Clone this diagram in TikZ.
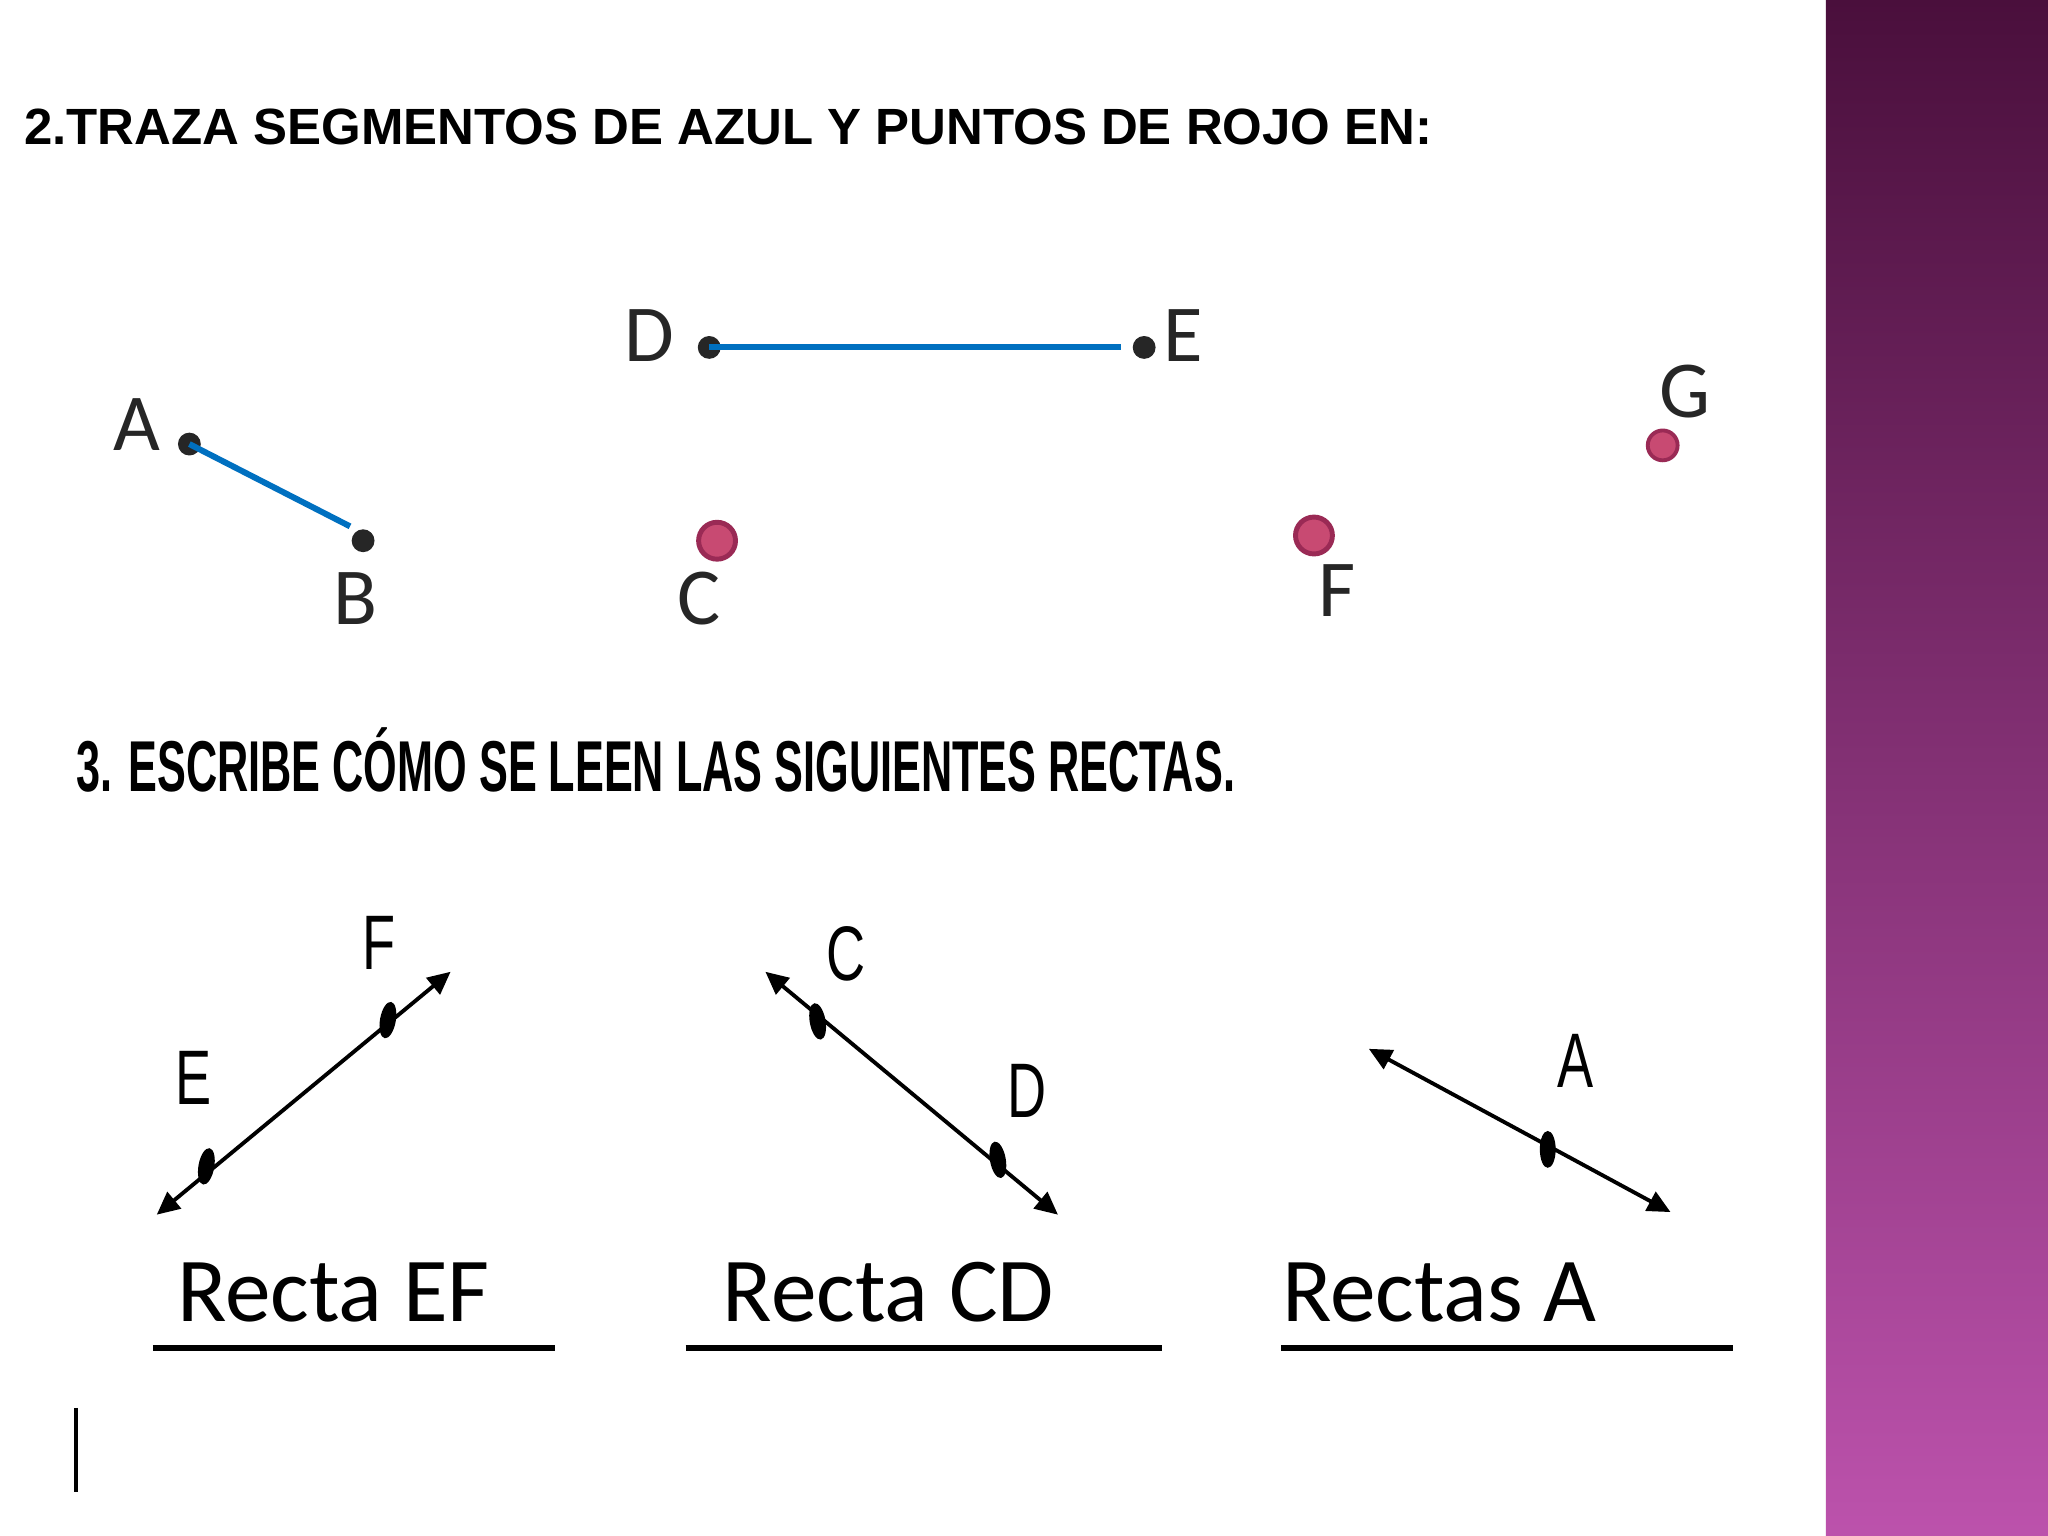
\documentclass[tikz,border=0pt]{standalone}
\usepackage{fontspec}
\setmainfont{Liberation Sans}
\newfontfamily\carlfont{Carlito}
\usetikzlibrary{arrows.meta,shapes.geometric}
\definecolor{segblue}{HTML}{0070C0}
\definecolor{ptred}{HTML}{9A2A55}
\definecolor{ptin}{HTML}{C84A72}
\definecolor{bartop}{HTML}{4A0F3C}
\definecolor{barbot}{HTML}{BC52AC}
\begin{document}
\begin{tikzpicture}[x=0.013061cm,y=-0.013061cm,
 lbl/.style={font=\carlfont\fontsize{23}{26}\selectfont,text=black!85,inner sep=0},
 lbl2/.style={font=\fontsize{15}{18}\selectfont,inner sep=0},
 bdot/.style={circle,fill=black!85,minimum size=6.5pt,inner sep=0},
 rdot/.style={circle,draw=ptred,line width=1.4pt,fill=ptin,inner sep=0},
 seg/.style={segblue,line width=1.7pt},
 rline/.style={black,line width=1.1pt,{Triangle[length=6.5pt,width=6pt]}-{Triangle[length=6.5pt,width=6pt]}},
 edot/.style={ellipse,fill=black,minimum width=4.5pt,minimum height=10.5pt,inner sep=0},
 rtext/.style={font=\carlfont\fontsize{26}{30}\selectfont,anchor=base west,inner sep=0},
 uline/.style={black,line width=1.5pt}]
\useasboundingbox (0,0) rectangle (1568,1176);
\fill[white] (0,0) rectangle (1568,1176);
\shade[top color=bartop,bottom color=barbot] (1398,0) rectangle (1568,1176);
\node[anchor=west,inner sep=0,font=\bfseries\fontsize{14.5}{17}\selectfont] (t2) at (18,97) {2.TRAZA SEGMENTOS DE AZUL Y PUNTOS DE ROJO EN:};
% section 2
\node[bdot] (A) at (145,340) {};
\node[bdot] (B) at (278,414) {};
\node[bdot] (D) at (543,266) {};
\node[bdot] (E) at (876,266) {};
\coordinate (Bend) at (268,403);
\coordinate (Eend) at (858,266);
\draw[seg] (A.center) -- (Bend);
\draw[seg] (D.center) -- (Eend);
\node[rdot,minimum size=10.5pt] (C) at (549,414) {};
\node[rdot,minimum size=10.5pt] (F) at (1006,410) {};
\node[rdot,minimum size=8.5pt,line width=1.1pt] (G) at (1273,341) {};
\node[lbl] (lA) at (105,325) {A};
\node[lbl] (lB) at (272,458) {B};
\node[lbl] (lD) at (497,257) {D};
\node[lbl] (lE) at (906,257) {E};
\node[lbl] (lC) at (535,458) {C};
\node[lbl] (lF) at (1024,452) {F};
\node[lbl] (lG) at (1290,300) {G};
% section 3
\node[anchor=west,inner sep=0] (t3) at (58,582) {\scalebox{0.60}[1]{\bfseries\fontsize{20.5}{24}\selectfont 3. ESCRIBE CÓMO SE LEEN LAS SIGUIENTES RECTAS.}};
\coordinate (ef1) at (120,930); \coordinate (ef2) at (345,744);
\draw[rline] (ef1) -- (ef2);
\node[edot,rotate=-10] (pE) at (158,893) {};
\node[edot,rotate=-10] (pF) at (297,781) {};
\coordinate (cd1) at (586,744); \coordinate (cd2) at (810,930);
\draw[rline] (cd1) -- (cd2);
\node[edot,rotate=10] (pC) at (626,782) {};
\node[edot,rotate=10] (pD) at (764,888) {};
\coordinate (a1) at (1048,803); \coordinate (a2) at (1279,928);
\draw[rline] (a1) -- (a2);
\node[edot,rotate=0] (pA) at (1185,880) {};
\node[lbl2] (qE) at (148,825) {\scalebox{0.7}[1]{\fontsize{22}{26}\selectfont E}};
\node[lbl2] (qF) at (290,722) {\scalebox{0.7}[1]{\fontsize{22}{26}\selectfont F}};
\node[lbl2] (qC) at (648,730) {\scalebox{0.7}[1]{\fontsize{22}{26}\selectfont C}};
\node[lbl2] (qD) at (786,835) {\scalebox{0.7}[1]{\fontsize{22}{26}\selectfont D}};
\node[lbl2] (qA) at (1206,812) {\scalebox{0.7}[1]{\fontsize{22}{26}\selectfont A}};
\node[rtext] (r1) at (135,1012) {Recta EF};
\node[rtext] (r2) at (553,1012) {Recta CD};
\node[rtext] (r3) at (981,1012) {Rectas A};
\coordinate (u1a) at (117,1032); \coordinate (u1b) at (425,1032);
\coordinate (u2a) at (525,1032); \coordinate (u2b) at (890,1032);
\coordinate (u3a) at (981,1032); \coordinate (u3b) at (1327,1032);
\draw[uline] (u1a) -- (u1b);
\draw[uline] (u2a) -- (u2b);
\draw[uline] (u3a) -- (u3b);
\coordinate (c1) at (58,1078); \coordinate (c2) at (58,1142);
\draw[black,line width=1pt] (c1) -- (c2);
\end{tikzpicture}
\end{document}
